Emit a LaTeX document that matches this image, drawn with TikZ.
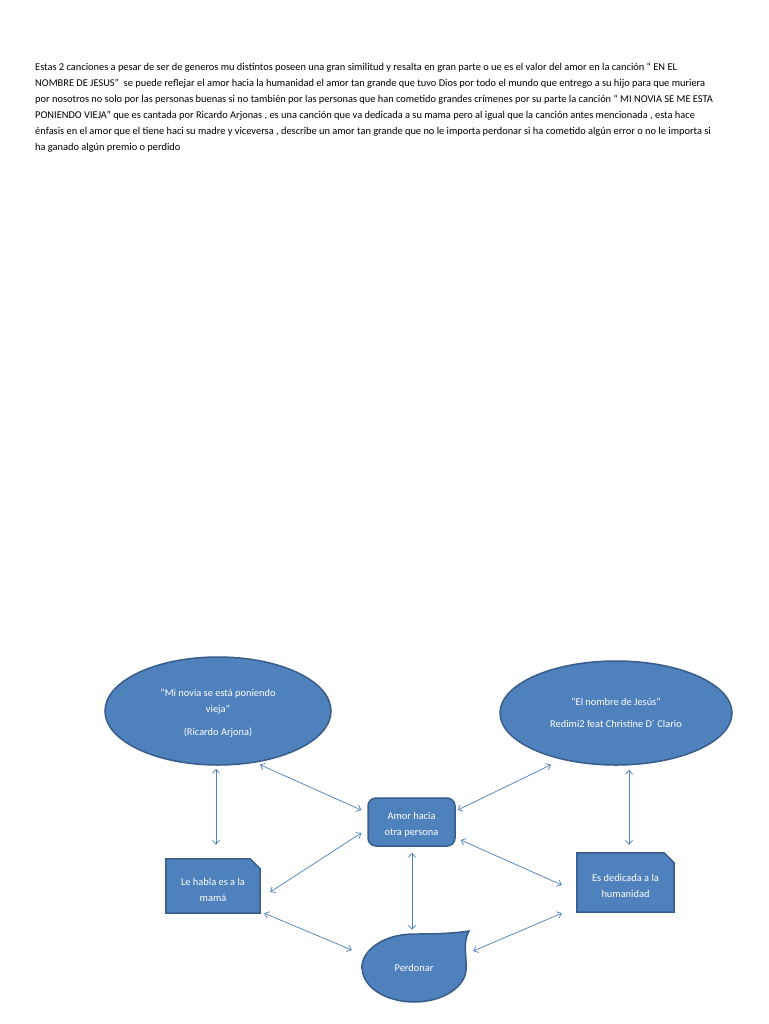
\documentclass[tikz,border=0pt]{standalone}
\usepackage{fontspec}
\setmainfont{Carlito}
\usetikzlibrary{shapes.geometric, arrows.meta, calc}
\definecolor{boxblue}{HTML}{4F81BD}
\definecolor{boxline}{HTML}{385D8A}
\definecolor{linkblue}{HTML}{4A7EBB}
\pgfdeclarelayer{bg}
\pgfsetlayers{bg,main}

\begin{document}
\begin{tikzpicture}[x=1pt, y=-1pt,
  forma/.style={fill=boxblue, draw=boxline, line width=1.5pt},
  rotulo/.style={text=white, align=center, inner sep=0pt, font=\fontsize{10.4}{16}\selectfont},
  enlace/.style={{Straight Barb[length=4pt,width=7pt]}-{Straight Barb[length=4pt,width=7pt]}, draw=linkblue, line width=0.7pt}]
  \useasboundingbox (0,0) rectangle (768,1024);
  \begin{pgfonlayer}{bg}
    \fill[white] (0,0) rectangle (768,1024);
  \end{pgfonlayer}

  \node[anchor=north west, inner sep=0pt, align=left, font=\fontsize{10.4}{16}\selectfont] (parrafo) at (35,63) {Estas 2 canciones a pesar de ser de generos mu distintos poseen una gran similitud y resalta en gran parte o ue es el valor del amor en la canción “ EN EL\\
NOMBRE DE JESUS”~ se puede reflejar el amor hacia la humanidad el amor tan grande que tuvo Dios por todo el mundo que entrego a su hijo para que muriera\\
por nosotros no solo por las personas buenas si no también por las personas que han cometido grandes crímenes por su parte la canción “ MI NOVIA SE ME ESTA\\
PONIENDO VIEJA” que es cantada por Ricardo Arjonas , es una canción que va dedicada a su mama pero al igual que la canción antes mencionada , esta hace\\
énfasis en el amor que el tiene haci su madre y viceversa , describe un amor tan grande que no le importa perdonar si ha cometido algún error o no le importa si\\
ha ganado algún premio o perdido};

  \node[forma, rotulo, ellipse, minimum width=226pt, minimum height=108pt] (novia) at (218,711) {\rule{0pt}{12.5pt}“Mi novia se está poniendo\\vieja”\\[7pt](Ricardo Arjona)};
  \node[forma, rotulo, ellipse, minimum width=232pt, minimum height=104pt] (jesus) at (616,713) {“El nombre de Jesús”\\[6pt]Redimi2 feat Christine D´ Clario};
  \node[forma, rotulo, rounded corners=8pt, minimum width=87pt, minimum height=48pt] (amor) at (411.5,822) {\rule{0pt}{13.5pt}Amor hacia\\otra persona};
  \node[rotulo, minimum width=94pt, minimum height=54pt] (mama) at (213,886) {\rule{0pt}{15pt}Le habla es a la\\mamá};
  \node[rotulo, minimum width=97pt, minimum height=59pt] (humanidad) at (625.5,882.5) {\rule{0pt}{15pt}Es dedicada a la\\humanidad};
  \node[rotulo, ellipse, minimum width=104pt, minimum height=68pt] (perdonar) at (414,968) {Perdonar};

  \begin{pgfonlayer}{bg}
    \draw[forma] (mama.south west) |- ($(mama.north east)+(-10,0)$) -- ($(mama.north east)+(0,10)$) |- cycle;
    \draw[forma] (humanidad.south west) |- ($(humanidad.north east)+(-10,0)$) -- ($(humanidad.north east)+(0,10)$) |- cycle;
    \draw[forma] (perdonar.west) arc[start angle=180, end angle=270, x radius=52, y radius=34] .. controls +(26,0) and +(-12,2) .. ($(perdonar.center)+(55,-37)$) .. controls +(-6,10) and +(0,-14) .. (perdonar.east) arc[start angle=0, end angle=180, x radius=52, y radius=34] -- cycle;
  \end{pgfonlayer}

  \draw[enlace] ($(novia.south)+(-2,3)$) -- ($(mama.north)+(3,-14)$);
  \draw[enlace] ($(novia.south)+(42,-1)$) -- ($(amor.west)+(-6,-12)$);
  \draw[enlace] ($(amor.east)+(2,-12)$) -- ($(jesus.south)+(-65,-1)$);
  \draw[enlace] ($(jesus.south)+(13,4)$) -- ($(humanidad.north)+(3.5,-8)$);
  \draw[enlace] ($(amor.west)+(-6,11)$) -- ($(mama.east)+(10,6)$);
  \draw[enlace] ($(amor.east)+(5,18)$) -- ($(humanidad.west)+(-15,2.5)$);
  \draw[enlace] ($(amor.south)+(0.5,6)$) -- ($(perdonar.north)+(-2,-4)$);
  \draw[enlace] ($(mama.south east)+(4,0)$) -- ($(perdonar.west)+(-10,-18)$);
  \draw[enlace] ($(humanidad.south west)+(-15,1)$) -- ($(perdonar.east)+(7,-17)$);
\end{tikzpicture}
\end{document}
